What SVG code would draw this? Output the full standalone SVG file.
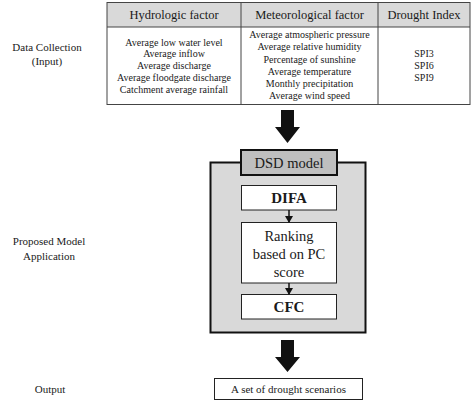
<svg xmlns="http://www.w3.org/2000/svg" width="474" height="402" viewBox="0 0 474 402">
<style>
text{font-family:"Liberation Serif","Times New Roman",serif;fill:#1a1a1a;text-anchor:middle}
.hd{font-size:12.5px}
.bd{font-size:10px}
.lab{font-size:11px}
.box{fill:#fff;stroke:#222;stroke-width:1}
.big{font-size:14.5px}
.bold{font-size:15px;font-weight:bold}
</style>
<defs>
<marker id="ah" markerWidth="8" markerHeight="8" refX="6" refY="4" orient="auto" markerUnits="userSpaceOnUse"><path d="M0,0 L7,4 L0,8 z" fill="#111"/></marker>
</defs>
<g id="labels">
<text class="lab" x="47" y="51">Data Collection</text>
<text class="lab" x="47" y="65">(Input)</text>
<text class="lab" x="49" y="245">Proposed Model</text>
<text class="lab" x="49" y="260">Application</text>
<text class="lab" x="50" y="393">Output</text>
</g>
<g id="table">
<rect x="107" y="2.5" width="363" height="24.5" fill="#d9d9d9"/>
<rect x="107" y="2.5" width="363" height="102" fill="none" stroke="#444" stroke-width="1"/>
<line x1="107" y1="27" x2="470" y2="27" stroke="#444"/>
<line x1="241" y1="2.5" x2="241" y2="104.5" stroke="#444"/>
<line x1="378" y1="2.5" x2="378" y2="104.5" stroke="#444"/>
<text class="hd" x="174" y="19">Hydrologic factor</text>
<text class="hd" x="309.5" y="19">Meteorological factor</text>
<text class="hd" x="424" y="19">Drought Index</text>
<text class="bd" x="174" y="45.5">Average low water level</text>
<text class="bd" x="174" y="57">Average inflow</text>
<text class="bd" x="174" y="68.5">Average discharge</text>
<text class="bd" x="174" y="81">Average floodgate discharge</text>
<text class="bd" x="174" y="92.5">Catchment average rainfall</text>
<text class="bd" x="309.5" y="37.5">Average atmospheric pressure</text>
<text class="bd" x="309.5" y="50">Average relative humidity</text>
<text class="bd" x="309.5" y="63">Percentage of sunshine</text>
<text class="bd" x="309.5" y="75">Average temperature</text>
<text class="bd" x="309.5" y="86.5">Monthly precipitation</text>
<text class="bd" x="309.5" y="99">Average wind speed</text>
<text class="bd" x="424" y="57">SPI3</text>
<text class="bd" x="424" y="69">SPI6</text>
<text class="bd" x="424" y="80.5">SPI9</text>
</g>
<g id="dsd">
<rect x="210.5" y="162.5" width="155" height="170" fill="#d9d9d9" stroke="#111" stroke-width="2"/>
<rect x="241" y="150" width="96" height="25" fill="#bfbfbf" stroke="#111" stroke-width="2"/>
<text class="big" x="289" y="168">DSD model</text>
</g>
<g id="difa">
<rect class="box" x="241.5" y="185.5" width="95" height="24.5"/>
<text class="bold" x="289" y="203">DIFA</text>
</g>
<g id="ranking">
<rect class="box" x="241.5" y="222.5" width="95" height="60.5"/>
<text class="big" x="289" y="241">Ranking</text>
<text class="big" x="289" y="259">based on PC</text>
<text class="big" x="289" y="277">score</text>
</g>
<g id="cfc">
<rect class="box" x="241.5" y="294.5" width="95" height="24.5"/>
<text class="bold" x="289" y="312">CFC</text>
</g>
<g id="output">
<rect class="box" x="214.5" y="378.5" width="148" height="21"/>
<text class="lab" x="288.5" y="393">A set of drought scenarios</text>
</g>
<g id="connectors">
<path d="M281,110 H294 V127 H300 L287.5,143 L275,127 H281 Z" fill="#111"/>
<path d="M281,340 H294 V357 H300 L287.5,372 L275,357 H281 Z" fill="#111"/>
<line x1="289" y1="210" x2="289" y2="222" stroke="#111" stroke-width="1.5" marker-end="url(#ah)"/>
<line x1="289" y1="283" x2="289" y2="294" stroke="#111" stroke-width="1.5" marker-end="url(#ah)"/>
</g>
</svg>
